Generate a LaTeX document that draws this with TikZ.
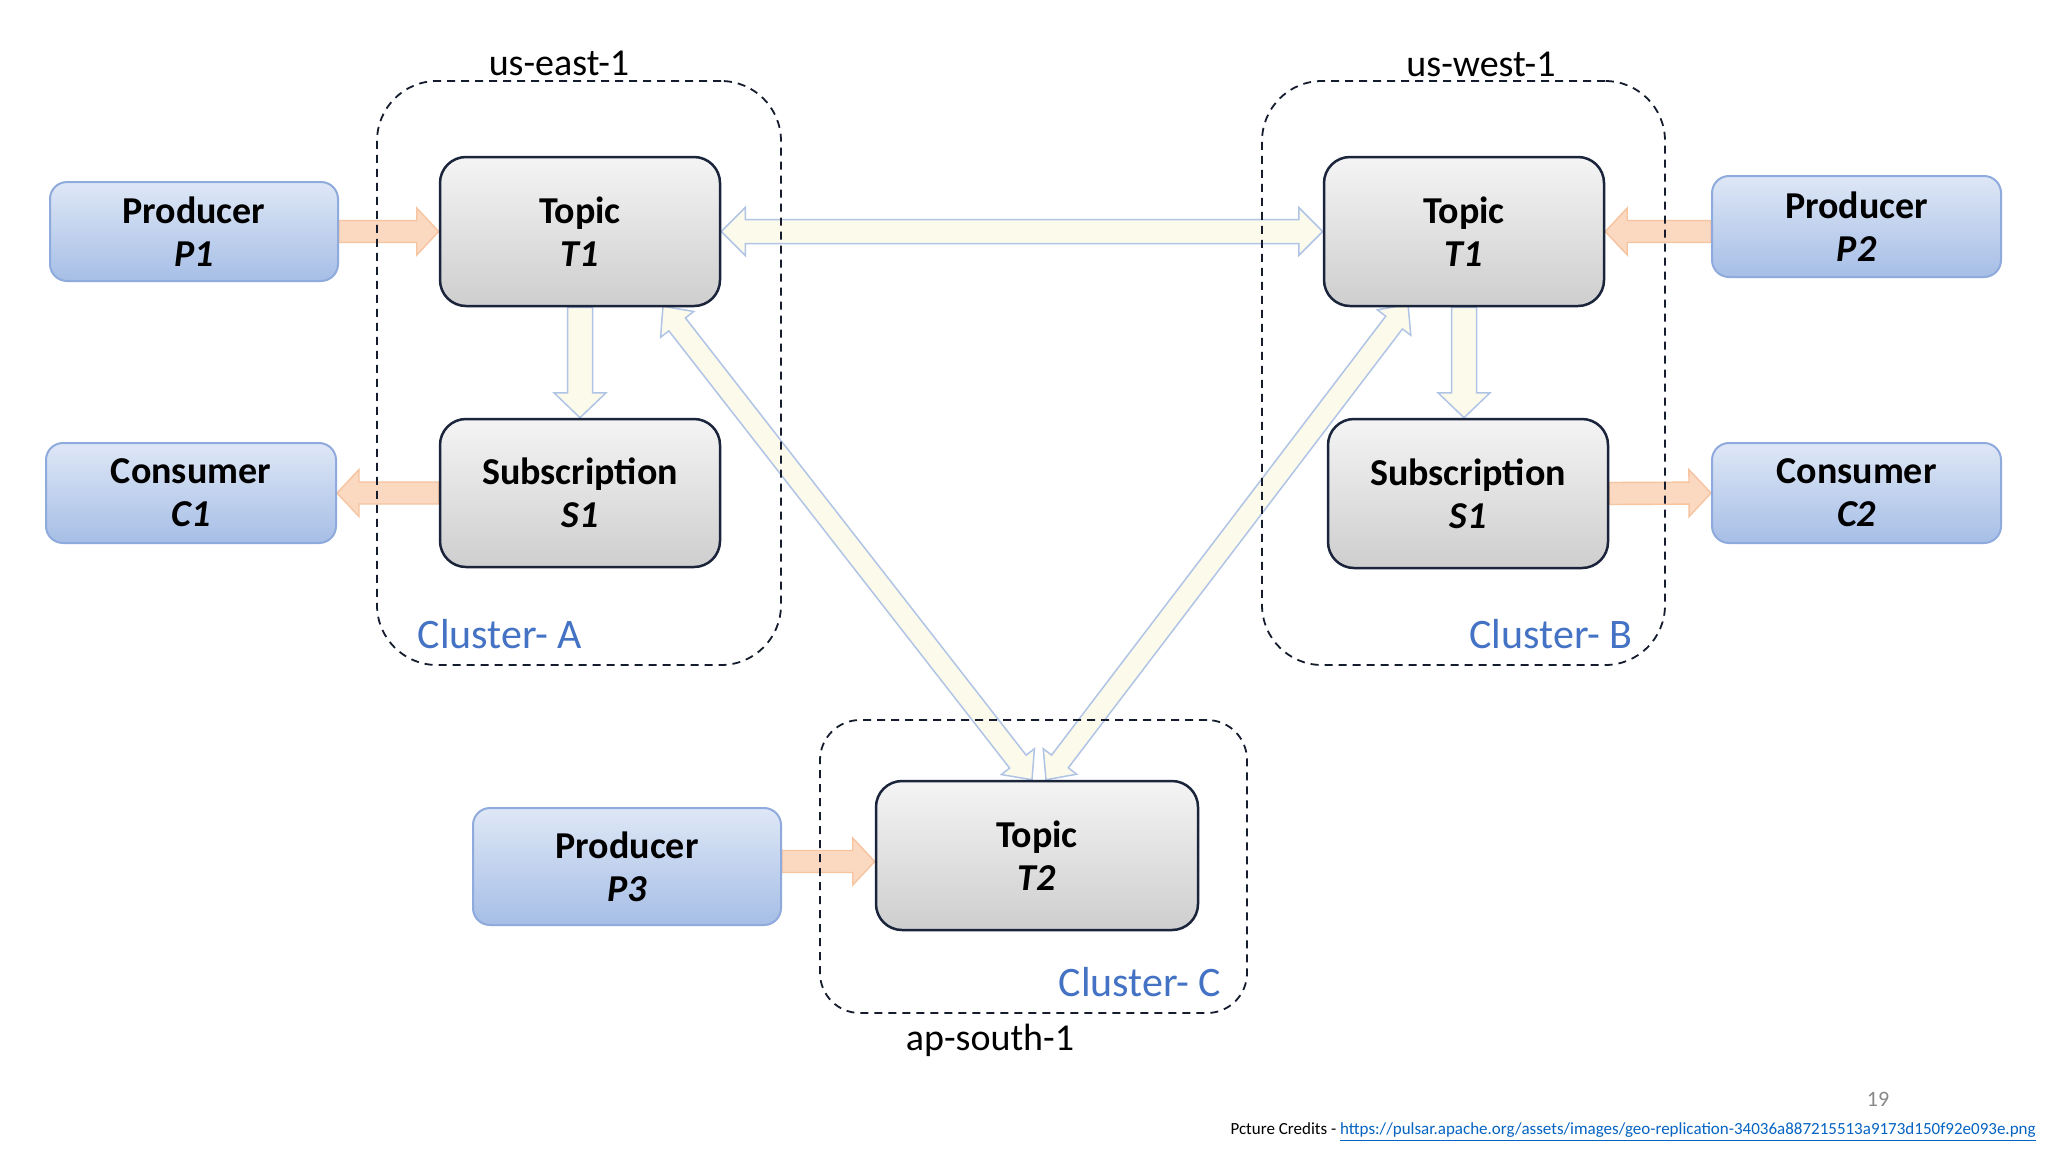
\documentclass[tikz,border=0pt]{standalone}
\usepackage{fontspec}
\setmainfont{Carlito}
\usetikzlibrary{calc}
\definecolor{clienttop}{RGB}{222,231,246}
\definecolor{clientbot}{RGB}{166,190,230}
\definecolor{clientline}{RGB}{143,170,220}
\definecolor{topictop}{RGB}{244,244,244}
\definecolor{topicbot}{RGB}{206,206,206}
\definecolor{topicline}{RGB}{26,36,58}
\definecolor{peach}{RGB}{251,216,192}
\definecolor{peachline}{RGB}{247,196,160}
\definecolor{cream}{RGB}{252,250,234}
\definecolor{creamline}{RGB}{176,196,230}
\definecolor{clusterblue}{RGB}{68,114,196}
\definecolor{urlblue}{RGB}{5,99,193}
\definecolor{pagegray}{RGB}{137,137,137}
\definecolor{dashline}{RGB}{20,28,45}
\newcommand\bxfont{\fontsize{19}{21.5}\selectfont\bfseries}
\pgfdeclarelayer{bg}
\pgfsetlayers{bg,main}
% single block arrow: style, from, to, shaft half width, head half width, head length
\newcommand\sarrow[6]{%
  \coordinate (ahd) at ($(#3)!#6!(#2)$);
  \path[#1] ($(#2)!#4!90:(#3)$) -- ($(ahd)!#4!-90:(#2)$) -- ($(ahd)!#5!-90:(#2)$) -- (#3)
    -- ($(ahd)!#5!90:(#2)$) -- ($(ahd)!#4!90:(#2)$) -- ($(#2)!#4!-90:(#3)$) -- cycle;
}
% double block arrow
\newcommand\darrow[6]{%
  \coordinate (ahdA) at ($(#2)!#6!(#3)$);
  \coordinate (ahdB) at ($(#3)!#6!(#2)$);
  \path[#1] (#2) -- ($(ahdA)!#5!90:(#3)$) -- ($(ahdA)!#4!90:(#3)$) -- ($(ahdB)!#4!-90:(#2)$)
    -- ($(ahdB)!#5!-90:(#2)$) -- (#3) -- ($(ahdB)!#5!90:(#2)$) -- ($(ahdB)!#4!90:(#2)$)
    -- ($(ahdA)!#4!-90:(#3)$) -- ($(ahdA)!#5!-90:(#3)$) -- cycle;
}
\begin{document}
\begin{tikzpicture}[x=0.5pt,y=-0.5pt,
  client/.style={draw=clientline, line width=1pt, rounded corners=8.5pt, top color=clienttop, bottom color=clientbot, align=center, font=\bxfont, inner sep=0pt},
  topic/.style={draw=topicline, line width=1.25pt, rounded corners=13pt, top color=topictop, bottom color=topicbot, align=center, font=\bxfont, inner sep=0pt},
  cluster/.style={draw=dashline, line width=0.9pt, dash pattern=on 4pt off 3pt, rounded corners=30pt, inner sep=0pt},
  peacharrow/.style={fill=peach, draw=peachline, line width=0.7pt},
  creamarrow/.style={fill=cream, draw=creamline, line width=0.75pt},
  region/.style={font=\fontsize{19}{22}\selectfont, inner sep=0pt},
  clabel/.style={font=\fontsize{21}{24}\selectfont, text=clusterblue, inner sep=0pt}
]
\useasboundingbox (0,0) rectangle (2048,1152);
\begin{pgfonlayer}{bg}
\fill[white] (0,0) rectangle (2048,1152);
\end{pgfonlayer}

% boxes
\node[client, minimum width=144pt, minimum height=49.5pt] (P1) at (194,231.5) {Producer\\\textit{P1}};
\node[client, minimum width=145pt, minimum height=50pt] (C1) at (191,493) {Consumer\\\textit{C1}};
\node[topic, minimum width=140pt, minimum height=74.5pt] (T1A) at (580,231.5) {Topic\\\textit{T1}};
\node[topic, minimum width=140pt, minimum height=74pt] (S1A) at (580,493) {Subscription\\\textit{S1}};
\node[topic, minimum width=140pt, minimum height=74.5pt] (T1B) at (1464,231.5) {Topic\\\textit{T1}};
\node[topic, minimum width=140pt, minimum height=74.5pt] (S1B) at (1468,493.5) {Subscription\\\textit{S1}};
\node[client, minimum width=144.5pt, minimum height=50.5pt] (P2) at (1856.5,226.5) {Producer\\\textit{P2}};
\node[client, minimum width=144.5pt, minimum height=50pt] (C2) at (1856.5,493) {Consumer\\\textit{C2}};
\node[client, minimum width=154pt, minimum height=58.5pt] (P3) at (627,866.5) {Producer\\\textit{P3}};
\node[topic, minimum width=161pt, minimum height=74.5pt] (T2) at (1037,855.5) {Topic\\\textit{T2}};

% helper coordinates
\coordinate (p2s) at (P2.west |- T1B.east);
\coordinate (tsb) at (T1B.south |- S1B.north);
\coordinate (p3t) at ($(T2.west)+(0,6)$);
\coordinate (p3s) at (P3.east |- p3t);
\coordinate (dA) at ($(T1A.south)+(83,-1)$);
\coordinate (dB) at ($(T1B.south)+(-56,-3)$);
\coordinate (dTa) at ($(T2.north)+(-5,0)$);
\coordinate (dTb) at ($(T2.north)+(9,0)$);

\begin{pgfonlayer}{bg}
  \sarrow{peacharrow}{P1.east}{T1A.west}{5.5pt}{11.75pt}{11pt}
  \sarrow{peacharrow}{S1A.west}{C1.east}{5.5pt}{11.75pt}{11pt}
  \sarrow{peacharrow}{p2s}{T1B.east}{5.5pt}{11.75pt}{11pt}
  \sarrow{peacharrow}{S1B.east}{C2.west}{5.5pt}{11.75pt}{11pt}
  \sarrow{peacharrow}{p3s}{p3t}{5.5pt}{11.75pt}{11pt}
  \sarrow{creamarrow}{T1A.south}{S1A.north}{6.25pt}{13pt}{12.5pt}
  \sarrow{creamarrow}{T1B.south}{tsb}{6.25pt}{13pt}{12.5pt}
  \darrow{creamarrow}{T1A.east}{T1B.west}{6pt}{12pt}{12pt}
  \darrow{creamarrow}{dA}{dTa}{5.25pt}{10.5pt}{11.5pt}
  \darrow{creamarrow}{dB}{dTb}{5.25pt}{10.5pt}{11.5pt}
\end{pgfonlayer}

% clusters
\node[cluster, minimum width=202pt, minimum height=292pt] (CA) at (579,373) {};
\node[cluster, minimum width=201.5pt, minimum height=292pt] (CB) at (1463.5,373) {};
\node[cluster, rounded corners=20pt, minimum width=213.5pt, minimum height=146.5pt] (CC) at (1033.5,866.5) {};

% labels
\node[region] (lA) at (559,63) {us-east-1};
\node[region] (lB) at (1481,64) {us-west-1};
\node[region] (lC) at (990,1040) {ap-south-1};
\node[clabel] (kA) at (500,634) {Cluster- A};
\node[clabel] (kB) at (1551,634) {Cluster- B};
\node[clabel] (kC) at (1140,982) {Cluster- C};
\node[font=\fontsize{11}{13}\selectfont, text=pagegray, inner sep=0pt] (pg) at (1878,1099) {19};
\node[font=\fontsize{8.5}{10}\selectfont, inner sep=0pt, anchor=east] (cr) at (2036,1132)
  {Pcture Credits - \textcolor{urlblue}{\underline{https://pulsar.apache.org/assets/images/geo-replication-34036a887215513a9173d150f92e093e.png}}};
\end{tikzpicture}
\end{document}
